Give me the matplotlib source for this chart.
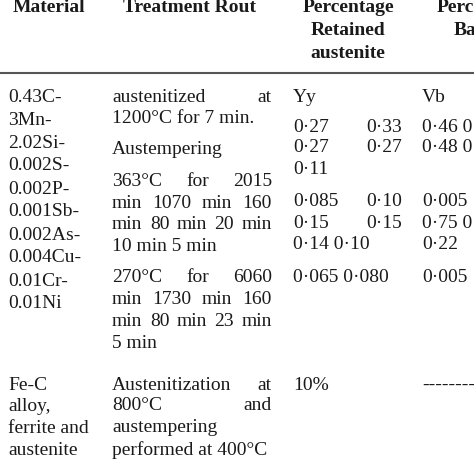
import matplotlib
matplotlib.use("Agg")
import matplotlib.pyplot as plt

fig = plt.figure(figsize=(4.74, 4.74), dpi=100)
ax = fig.add_axes([0, 0, 1, 1])
ax.set_xlim(0, 474); ax.set_ylim(474, 0); ax.axis("off")
FS = 14
kw = dict(family="Liberation Serif", fontsize=FS, va="center", color="#1a1a1a")
bkw = dict(kw, fontweight="bold")
renderer = fig.canvas.get_renderer()

def width(t):
    tx = ax.text(0, 0, t, **kw)
    w = tx.get_window_extent(renderer).width
    tx.remove()
    return w

headers = [("Material", 13, 7, "left"), ("Treatment Rout", 123, 7, "left"),
           ("Percentage", 348, 7, "center"), ("Retained", 348, 30, "center"),
           ("austenite", 348, 53, "center"), ("Perc", 437, 7, "left"), ("Ba", 454, 30, "left")]
for t, x, y, ha in headers:
    ax.text(x, y, t, ha=ha, **bkw)
ax.plot([0, 474], [73, 73], color="#555555", lw=1.5)

material1 = ["0.43C-", "3Mn-", "2.02Si-", "0.002S-", "0.002P-", "0.001Sb-", "0.002As-",
             "0.004Cu-", "0.01Cr-", "0.01Ni"]
for i, t in enumerate(material1):
    ax.text(8, 97 + i * 23.0, t, ha="left", **kw)
material2 = ["Fe-C", "alloy,", "ferrite and", "austenite"]
for i, t in enumerate(material2):
    ax.text(8, 385 + i * 21.7, t, ha="left", **kw)

treat = [("austenitized at", 97, True), ("1200°C for 7 min.", 118, False),
         ("Austempering", 150, False), ("363°C for 2015", 181, True),
         ("min 1070 min 160", 203, True), ("min 80 min 20 min", 224, True),
         ("10 min 5 min", 246, False), ("270°C for 6060", 278, True),
         ("min 1730 min 160", 300, True), ("min 80 min 23 min", 321, True),
         ("5 min", 343, False), ("Austenitization at", 385, True),
         ("800°C and", 406, True), ("austempering", 428, False),
         ("performed at 400°C", 450, False)]
L, R = 112, 272
for t, y, just in treat:
    words = t.split()
    if not just or len(words) == 1:
        ax.text(L, y, t, ha="left", **kw)
        continue
    n = len(words)
    ws = [width(w) for w in words]
    gap = (R - L - sum(ws)) / (n - 1)
    x = L
    for j, w in enumerate(words):
        if j == n - 1:
            ax.text(R, y, w, ha="right", **kw)
        else:
            ax.text(x, y, w, ha="left", **kw)
        x += ws[j] + gap

col3 = [("Yy", None, 97), ("0·27", "0·33", 127), ("0·27", "0·27", 148), ("0·11", None, 169),
        ("0·085", "0·10", 202), ("0·15", "0·15", 223), ("0·14 0·10", None, 244),
        ("0·065 0·080", None, 277), ("10%", None, 385)]
for a, b, y in col3:
    ax.text(293, y, a, ha="left", **kw)
    if b:
        ax.text(402, y, b, ha="right", **kw)

col4 = [("Vb", 97), ("0·46 0", 127), ("0·48 0", 148), ("0·005", 202), ("0·75 0", 223),
        ("0·22", 244), ("0·005", 277), ("--------", 385)]
for t, y in col4:
    ax.text(422, y, t, ha="left", **kw)

fig.savefig("out.png", dpi=100, facecolor="white")
